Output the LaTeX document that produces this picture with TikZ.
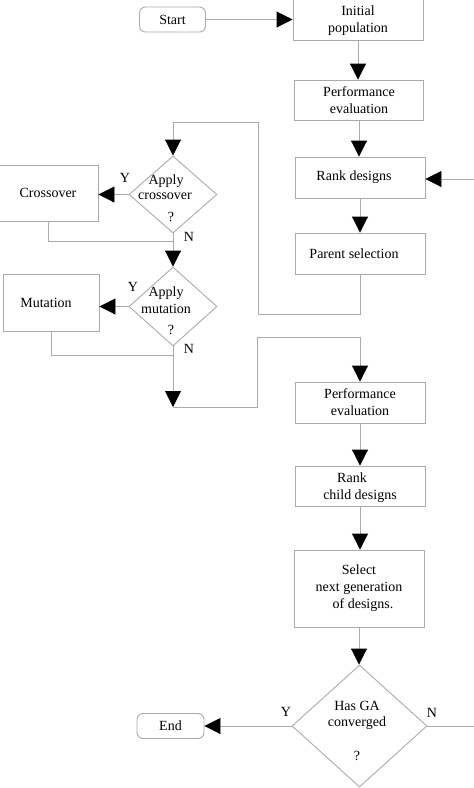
\documentclass[tikz,border=0pt]{standalone}
\usepackage{fontspec}
\setmainfont{Liberation Serif}
\usetikzlibrary{arrows.meta,shapes.geometric}
\definecolor{lgray}{RGB}{170,170,170}
\begin{document}
\begin{tikzpicture}[x=1pt,y=-1pt,
  line/.style={draw=lgray, line width=0.9pt},
  arr/.style={line, -{Triangle[length=16pt,width=16pt,color=black,fill=black]}},
  txt/.style={font=\fontsize{14}{17}\selectfont, inner sep=0pt, align=center},
  box/.style={txt, draw=lgray, line width=0.9pt, rectangle},
  term/.style={box, rounded corners=6pt},
  dia/.style={draw=lgray, line width=0.9pt, diamond, inner sep=0pt}
]
\useasboundingbox (0,0) rectangle (474,788);
% right column
\node[box, minimum width=130pt, minimum height=44pt] (init) at (358,18) {\rule{0pt}{15pt}Initial\\population};
\node[term, minimum width=66pt, minimum height=25pt] (start) at (172.5,19.5) {Start};
\node[box, minimum width=129pt, minimum height=40pt] (pe1) at (359,100) {Performance\\evaluation};
\node[box, minimum width=130pt, minimum height=41pt] (rank) at (360,177.5) {Rank designs\hspace*{12pt}};
\node[box, minimum width=130pt, minimum height=41pt] (ps) at (360,253.5) {Parent selection\hspace*{12pt}};
% left part
\node[dia, minimum width=88pt, minimum height=77pt] (d1) at (173,194.5) {};
\node[txt] (d1a) at (166,181) {Apply};
\node[txt] (d1b) at (165,196) {crossover};
\node[txt] (d1c) at (171,217) {?};
\node[box, minimum width=100pt, minimum height=56pt] (cross) at (48,193) {Crossover};
\node[dia, minimum width=88pt, minimum height=79pt] (d2) at (173,306.5) {};
\node[txt] (d2a) at (166,293) {Apply};
\node[txt] (d2b) at (166,309) {mutation};
\node[txt] (d2c) at (171,330) {?};
\node[box, minimum width=96pt, minimum height=57pt] (mut) at (51,302.5) {Mutation\hspace*{10pt}};
% lower right column
\node[box, minimum width=130pt, minimum height=41pt] (pe2) at (360,402.5) {Performance\\evaluation};
\node[box, minimum width=130pt, minimum height=40pt] (rcd) at (360,486) {\rule{0pt}{13pt}\hspace*{-16pt}Rank\\child designs};
\node[box, minimum width=130pt, minimum height=77pt] (sel) at (359,588.5) {Select\\next generation\\\hspace*{8pt}of designs.};
\node[dia, minimum width=135pt, minimum height=122pt] (d3) at (359.5,726) {};
\node[txt] (d3a) at (357,706) {Has GA};
\node[txt] (d3b) at (357,723) {converged};
\node[txt] (d3c) at (357,756) {?};
\node[term, minimum width=67pt, minimum height=25pt] (end) at (170.5,726) {End};
% labels
\node[txt] (y1) at (125,178) {Y};
\node[txt] (n1) at (189,237) {N};
\node[txt] (y2) at (133,287) {Y};
\node[txt] (n2) at (189,349) {N};
\node[txt] (y3) at (286,712) {Y};
\node[txt] (n3) at (432,713) {N};
% coordinates
\coordinate (rin) at (474,179);
\coordinate (j1) at (173,241);
\coordinate (j2) at (173,355);
\coordinate (j3) at (173,407);
\coordinate (dout) at (474,726);
% connectors
\draw[arr] (start.east) -- (init.west |- start.east);
\draw[arr] (init.south) -- (init.south |- pe1.north);
\draw[arr] (pe1.south) -- (pe1.south |- rank.north);
\draw[arr] (rin) -- (rank.east |- rin);
\draw[arr] (rank.south) -- (ps.north);
\draw[arr] (ps.south) -- ++(0,39.5) -| (258,122) -| (d1.north);
\draw[arr] (d1.west) -- (d1.west -| cross.east);
\draw[line] (cross.south) |- (j1);
\draw[arr] (d1.south) -- (d2.north);
\draw[arr] (d2.west) -- (d2.west -| mut.east);
\draw[line] (mut.south) |- (j2);
\draw[arr] (d2.south) -- (j3);
\draw[arr] (j3) -| (257,337) -| (pe2.north);
\draw[arr] (pe2.south) -- (rcd.north);
\draw[arr] (rcd.south) -- (sel.north -| rcd.south);
\draw[arr] (sel.south) -- (d3.north -| sel.south);
\draw[arr] (d3.west) -- (end.east);
\draw[line] (d3.east) -- (dout);
\end{tikzpicture}
\end{document}
